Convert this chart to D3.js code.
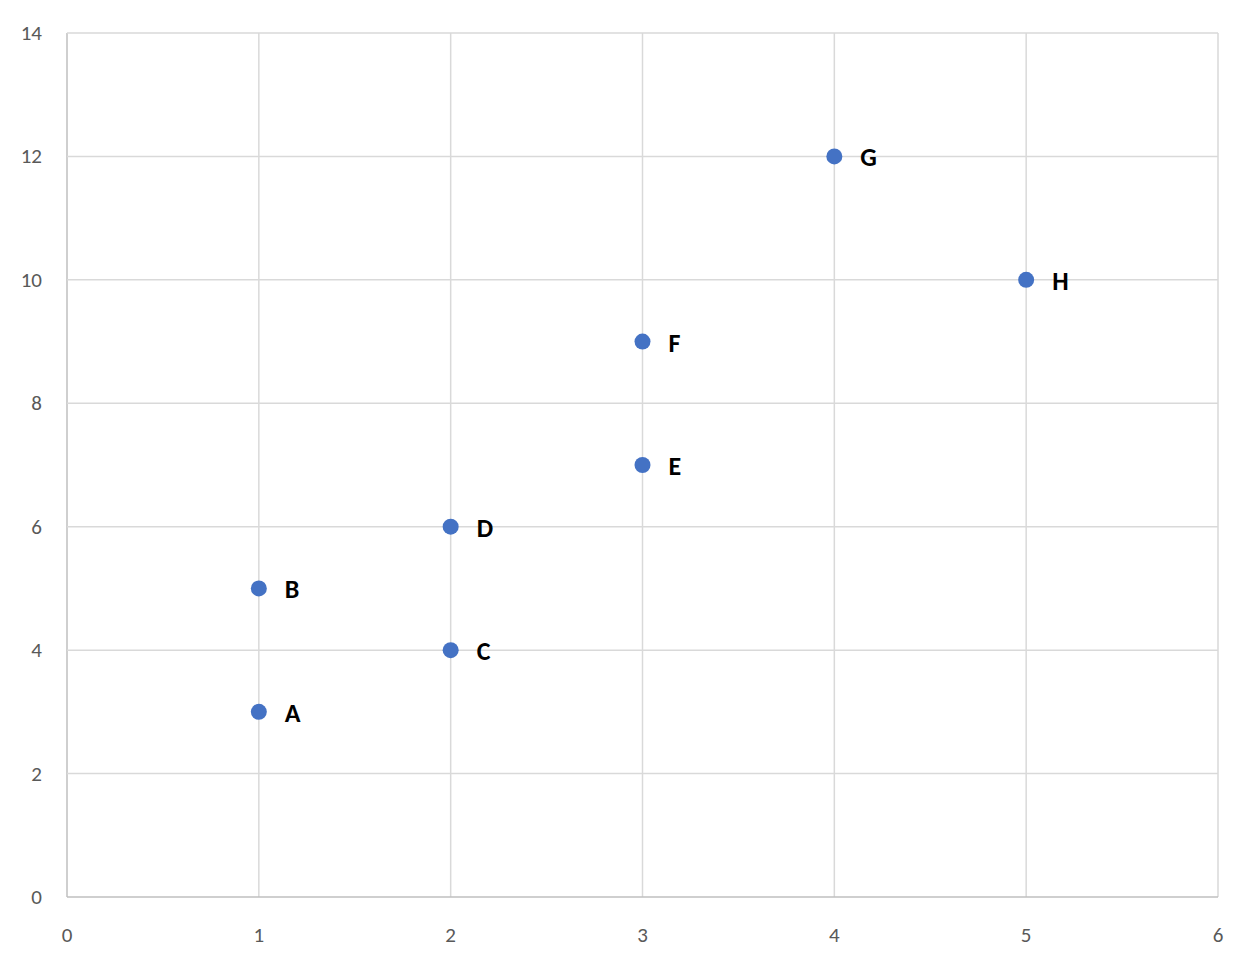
<!DOCTYPE html>
<html><head><meta charset="utf-8">
<script src="https://cdn.jsdelivr.net/npm/d3@7"></script>
<style>body{margin:0;background:#fff}</style></head>
<body><svg id="c" width="1239" height="953"></svg>
<script>
const labels = ["A","B","C","D","E","F","G","H"];
const xs = [1,1,2,2,3,3,4,5];
const ys = [3,5,4,6,7,9,12,10];
const xTicks = [0,1,2,3,4,5,6];
const yTicks = [0,2,4,6,8,10,12,14];

const svg = d3.select("#c");
const x = d3.scaleLinear().domain([0,6]).range([67,1218]);
const y = d3.scaleLinear().domain([0,14]).range([897,33]);
const font = "Calibri, Carlito, 'Open Sans', 'Liberation Sans', Arial, sans-serif";

svg.append("g").selectAll("line").data(xTicks).join("line")
  .attr("x1",d=>x(d)).attr("x2",d=>x(d)).attr("y1",y(0)).attr("y2",y(14))
  .attr("stroke",d=>d===0?"#bfbfbf":"#d9d9d9").attr("stroke-width",1.5);
svg.append("g").selectAll("line").data(yTicks).join("line")
  .attr("x1",x(0)).attr("x2",x(6)).attr("y1",d=>y(d)).attr("y2",d=>y(d))
  .attr("stroke",d=>d===0?"#bfbfbf":"#d9d9d9").attr("stroke-width",1.5);

svg.append("g").selectAll("text").data(xTicks).join("text")
  .attr("x",d=>x(d)).attr("y",942).attr("text-anchor","middle")
  .attr("font-family",font).attr("font-size",21).attr("fill","#595959").text(d=>d);
svg.append("g").selectAll("text").data(yTicks).join("text")
  .attr("x",42).attr("y",d=>y(d)+7).attr("text-anchor","end")
  .attr("font-family",font).attr("font-size",21).attr("fill","#595959").text(d=>d);

const data = labels.map((l,i)=>({l,x:xs[i],y:ys[i]}));
svg.append("g").selectAll("circle").data(data).join("circle")
  .attr("cx",d=>x(d.x)).attr("cy",d=>y(d.y)).attr("r",8).attr("fill","#4472c4");
svg.append("g").selectAll("text").data(data).join("text")
  .attr("x",d=>x(d.x)+26).attr("y",d=>y(d.y)+10)
  .attr("font-family",font).attr("font-size",26).attr("font-weight","bold").attr("fill","#000").text(d=>d.l);
</script></body></html>
